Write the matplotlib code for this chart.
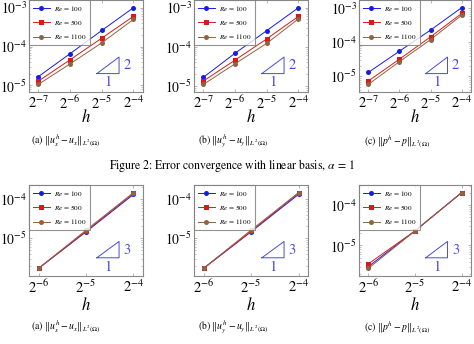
import numpy as np
import matplotlib
matplotlib.use("Agg")
import matplotlib.pyplot as plt
from matplotlib.ticker import FixedLocator, FixedFormatter, LogLocator, NullFormatter

plt.rcParams["font.family"] = ["STIXGeneral", "DejaVu Serif"]
plt.rcParams["mathtext.fontset"] = "stix"

# mesh sizes
h_linear = [2**-7, 2**-6, 2**-5, 2**-4]
h_quad = [2**-6, 2**-5, 2**-4]
h_linear_labels = [r"$2^{-7}$", r"$2^{-6}$", r"$2^{-5}$", r"$2^{-4}$"]
h_quad_labels = [r"$2^{-6}$", r"$2^{-5}$", r"$2^{-4}$"]

re_labels = [r"$Re$ = 100", r"$Re$ = 500", r"$Re$ = 1100"]

# linear basis errors
ux_lin_100 = [1.7e-5, 6.6e-5, 2.6e-4, 1.0e-3]
ux_lin_500 = [1.3e-5, 4.6e-5, 1.65e-4, 6.0e-4]
ux_lin_1100 = [1.07e-5, 3.6e-5, 1.25e-4, 5.0e-4]
uy_lin_100 = [1.67e-5, 6.9e-5, 2.6e-4, 1.0e-3]
uy_lin_500 = [1.34e-5, 4.6e-5, 1.6e-4, 6.0e-4]
uy_lin_1100 = [1.1e-5, 3.7e-5, 1.23e-4, 5.2e-4]
p_lin_100 = [1.3e-5, 5.5e-5, 2.3e-4, 1.05e-3]
p_lin_500 = [7.3e-6, 3.2e-5, 1.45e-4, 7.1e-4]
p_lin_1100 = [5.8e-6, 2.7e-5, 1.2e-4, 6.3e-4]

# quadratic basis errors
ux_quad_100 = [1.7e-6, 1.45e-5, 1.3e-4]
ux_quad_500 = [1.7e-6, 1.5e-5, 1.4e-4]
ux_quad_1100 = [1.7e-6, 1.6e-5, 1.45e-4]
uy_quad_100 = [1.7e-6, 1.45e-5, 1.3e-4]
uy_quad_500 = [1.7e-6, 1.5e-5, 1.4e-4]
uy_quad_1100 = [1.7e-6, 1.6e-5, 1.45e-4]
p_quad_100 = [3.0e-6, 2.3e-5, 2.05e-4]
p_quad_500 = [3.5e-6, 2.3e-5, 2.05e-4]
p_quad_1100 = [2.7e-6, 2.3e-5, 2.05e-4]

captions = [r"(a) $\|u_x^h - u_x\|_{L^2(\Omega)}$",
            r"(b) $\|u_y^h - u_y\|_{L^2(\Omega)}$",
            r"(c) $\|p^h - p\|_{L^2(\Omega)}$"]

W, H = 474, 344
fig = plt.figure(figsize=(W / 100, H / 100), dpi=100)

colors = ["#1a1ae6", "#d91a1a", "#8f6440"]
markers = ["o", "s", "o"]
tri_color = "#4a4ad8"


def px_axes(x0, x1, y0, y1):
    return fig.add_axes([x0 / W, 1 - y1 / H, (x1 - x0) / W, (y1 - y0) / H])


def draw_panel(ax, h, series, hlabels, slope):
    for vals, c, m, lab in zip(series, colors, markers, re_labels):
        ax.plot(h, vals, color=c, marker=m, markersize=3.6, lw=0.7,
                label=lab, markeredgewidth=0)
    ax.set_xscale("log", base=2)
    ax.set_yscale("log")
    ax.margins(x=0.1, y=0.1)
    ax.xaxis.set_major_locator(FixedLocator(h))
    ax.xaxis.set_major_formatter(FixedFormatter(hlabels))
    ax.xaxis.set_minor_locator(FixedLocator([]))
    ax.yaxis.set_major_locator(LogLocator(base=10, numticks=10))
    ax.yaxis.set_minor_locator(LogLocator(base=10, subs=np.arange(2, 10), numticks=20))
    ax.yaxis.set_minor_formatter(NullFormatter())
    ax.tick_params(which="both", direction="in", color="#999999",
                   top=True, right=True, labelsize=10.5, pad=2)
    ax.tick_params(axis="y", labelsize=9.8, pad=1.5)
    ax.tick_params(which="major", length=2.5, width=0.5)
    ax.tick_params(which="minor", length=1.5, width=0.4)
    for s in ax.spines.values():
        s.set_color("#888888")
        s.set_linewidth(0.8)
    leg = ax.legend(loc="upper left", borderaxespad=0, fontsize=5.2,
                    frameon=True, fancybox=False, handlelength=2.4,
                    handletextpad=0.6, borderpad=0.5, labelspacing=0.75,
                    markerfirst=True)
    leg.get_frame().set_edgecolor("#777777")
    leg.get_frame().set_linewidth(0.8)
    # slope triangle
    tx = [0.595, 0.79, 0.79, 0.595]
    ty = [0.20, 0.38, 0.20, 0.20]
    ax.plot(tx, ty, transform=ax.transAxes, color=tri_color, lw=0.7)
    ax.text(0.83, 0.285, slope, transform=ax.transAxes, color=tri_color,
            fontsize=10.5, ha="left", va="center")
    ax.text(0.693, 0.10, "1", transform=ax.transAxes, color=tri_color,
            fontsize=10.5, ha="center", va="center")


cols = [(29, 143), (194, 308), (359, 471)]
top_series = [
    (ux_lin_100, ux_lin_500, ux_lin_1100),
    (uy_lin_100, uy_lin_500, uy_lin_1100),
    (p_lin_100, p_lin_500, p_lin_1100),
]
bot_series = [
    (ux_quad_100, ux_quad_500, ux_quad_1100),
    (uy_quad_100, uy_quad_500, uy_quad_1100),
    (p_quad_100, p_quad_500, p_quad_1100),
]
cap_x = [66, 233, 397]

for i, (x0, x1) in enumerate(cols):
    ax = px_axes(x0, x1, 0, 92)
    draw_panel(ax, h_linear, top_series[i], h_linear_labels, "2")
    fig.text((x0 + x1) / 2 / W, 1 - 118 / H, r"$h$", ha="center", va="center", fontsize=12)
    fig.text(cap_x[i] / W, 1 - 141 / H, captions[i], ha="center", va="center", fontsize=7)

    ax = px_axes(x0, x1, 185, 276)
    draw_panel(ax, h_quad, bot_series[i], h_quad_labels, "3")
    fig.text((x0 + x1) / 2 / W, 1 - 305 / H, r"$h$", ha="center", va="center", fontsize=12)
    fig.text(cap_x[i] / W, 1 - 327 / H, captions[i], ha="center", va="center", fontsize=7)

fig.text(232 / W, 1 - 165 / H, r"Figure 2: Error convergence with linear basis, $\alpha$ = 1",
         ha="center", va="center", fontsize=8.5)

fig.savefig("out.png", dpi=100)
